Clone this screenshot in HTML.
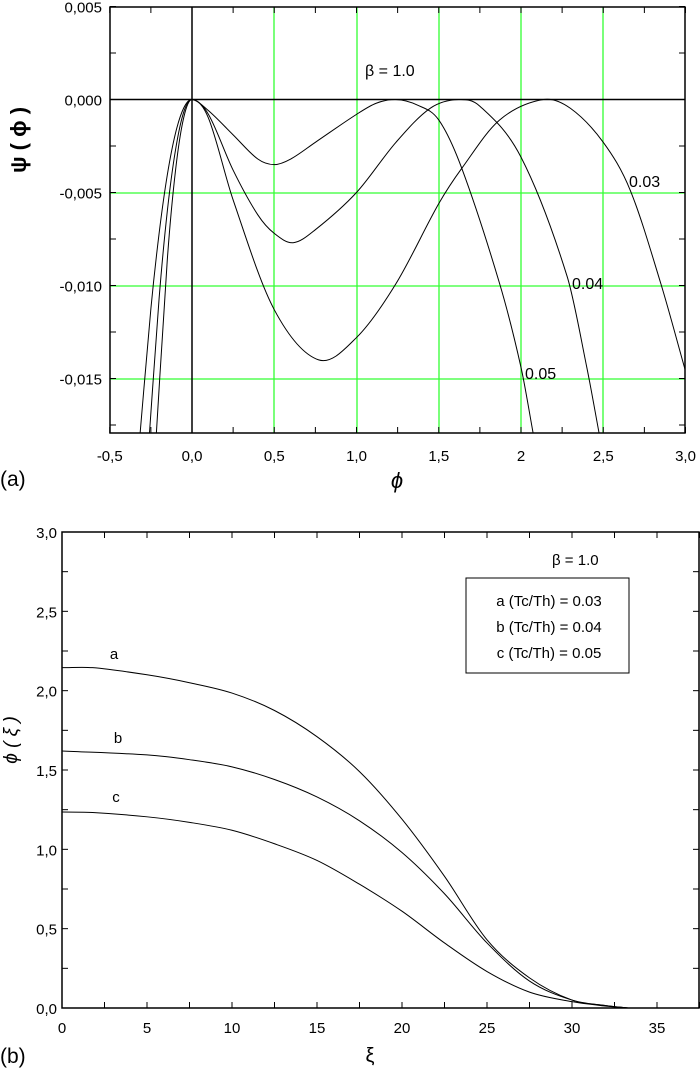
<!DOCTYPE html>
<html><head><meta charset="utf-8"><style>
html,body{margin:0;padding:0;background:#fff;}
svg{display:block;font-family:"Liberation Sans",sans-serif;}
</style></head><body>
<svg id="chart" width="700" height="1070" viewBox="0 0 700 1070"></svg>
<script>
// ---- Panel (a) data ----
const aXTicks = [-0.5,0,0.5,1,1.5,2,2.5,3];
const aXTickLabels = ["-0,5","0,0","0,5","1,0","1,5","2","2,5","3,0"];
const aYTicks = [0.005,0,-0.005,-0.010,-0.015];
const aYTickLabels = ["0,005","0,000","-0,005","-0,010","-0,015"];
const phi05 = [-0.316,-0.25,-0.2,-0.15,-0.1,-0.05,0,0.1,0.25,0.4,0.5,0.6,0.75,1.0,1.12,1.24,1.37,1.5,1.64,1.87,2.0,2.075];
const psi05 = [-0.018,-0.01125,-0.0072,-0.00405,-0.0018,-0.00045,0,-0.0006,-0.0019,-0.0032,-0.0035,-0.0032,-0.0023,-0.0008,-0.0002,0,-0.0003,-0.0011,-0.0037,-0.0099,-0.0144,-0.018];
const phi04 = [-0.259,-0.2,-0.15,-0.1,-0.05,0,0.1,0.25,0.4,0.5,0.615,0.75,1.0,1.24,1.45,1.62,1.75,2.0,2.28,2.40,2.476];
const psi04 = [-0.018,-0.0107,-0.006,-0.0027,-0.00067,0,-0.0008,-0.0038,-0.0062,-0.0072,-0.0077,-0.0070,-0.005,-0.0023,-0.00046,0,-0.00036,-0.0031,-0.0095,-0.0144,-0.018];
const phi03 = [-0.217,-0.15,-0.1,-0.05,0,0.1,0.25,0.5,0.77,1.0,1.24,1.5,1.64,1.87,2.136,2.3,2.5,2.665,2.85,3.0];
const psi03 = [-0.018,-0.0086,-0.0038,-0.00096,0,-0.001,-0.0054,-0.0113,-0.0140,-0.0128,-0.0099,-0.0056,-0.0037,-0.0011,0,-0.00047,-0.0023,-0.0049,-0.0099,-0.0146];
// ---- Panel (b) data ----
const bXTicks = [0,5,10,15,20,25,30,35];
const bYTicks = [0,0.5,1,1.5,2,2.5,3];
const bYTickLabels = ["0,0","0,5","1,0","1,5","2,0","2,5","3,0"];
const xiA = [0,1.8,5,7.5,10,12.5,15,17.5,20,22.5,25,27.5,30,32,33.3];
const phA = [2.145,2.145,2.10,2.05,1.985,1.875,1.71,1.49,1.19,0.83,0.43,0.19,0.05,0.015,0];
const xiB = [0,5,7.5,10,12.5,15,17.5,20,22.5,25,27.5,30,32,33.3];
const phB = [1.62,1.595,1.565,1.52,1.44,1.33,1.18,0.98,0.72,0.41,0.17,0.05,0.015,0];
const xiC = [0,1.8,5,7.5,10,12.5,15,17.5,20,22.5,25,27.5,30,32,33.3];
const phC = [1.235,1.232,1.205,1.17,1.12,1.035,0.93,0.78,0.61,0.41,0.23,0.10,0.04,0.012,0];

const NS="http://www.w3.org/2000/svg";
const svg=document.getElementById('chart');
function mk(tag,attrs,parent){const e=document.createElementNS(NS,tag);for(const k in attrs)e.setAttribute(k,attrs[k]);(parent||svg).appendChild(e);return e;}
function txt(s,x,y,attrs){const e=mk('text',Object.assign({x:x,y:y,'font-size':15,fill:'#000'},attrs||{}));e.textContent=s;return e;}
function spline(pts){const n=pts.length,m=[];
 for(let i=0;i<n;i++){const a=pts[Math.max(i-1,0)],b=pts[Math.min(i+1,n-1)];m.push((b[1]-a[1])/(b[0]-a[0]));}
 let d='M'+pts[0][0].toFixed(2)+','+pts[0][1].toFixed(2);
 for(let i=0;i<n-1;i++){const p1=pts[i],p2=pts[i+1],h=(p2[0]-p1[0])/3;
  d+='C'+(p1[0]+h).toFixed(2)+','+(p1[1]+m[i]*h).toFixed(2)+' '+(p2[0]-h).toFixed(2)+','+(p2[1]-m[i+1]*h).toFixed(2)+' '+p2[0].toFixed(2)+','+p2[1].toFixed(2);}
 return d;}

// ===== Panel (a) =====
const AL=110,AR=685,AT=7,AB=433;
const ax=v=>192+v*164.5;
const ay=v=>99.5+(-v)/0.005*93;
const ga=mk('g',{});
const clipA=mk('clipPath',{id:'clipA'},ga);mk('rect',{x:AL,y:AT,width:AR-AL,height:AB-AT},clipA);
[0.5,1,1.5,2,2.5].forEach(v=>{const X=Math.round(ax(v));const l=mk('line',{x1:X,x2:X,y1:AT,y2:AB,stroke:'#33ff33','stroke-width':1.3},ga);
});
[-0.005,-0.010,-0.015].forEach(v=>{const Y=Math.round(ay(v));const l=mk('line',{x1:AL,x2:AR,y1:Y,y2:Y,stroke:'#33ff33','stroke-width':1.3},ga);
});
mk('line',{x1:ax(0),x2:ax(0),y1:AT,y2:AB,stroke:'#000','stroke-width':1.5,},ga);
mk('line',{x1:AL,x2:AR,y1:ay(0),y2:ay(0),stroke:'#000','stroke-width':1.5,},ga);
for(let k=0;k<=14;k++){const v=-0.5+k*0.25;[AB,AT].forEach((yy,i)=>{const t=mk('line',{x1:ax(v),x2:ax(v),y1:yy,y2:i?yy+6:yy-6,stroke:'#000'},ga);});}
for(let k=0;k<=9;k++){const v=0.005-k*0.0025;[AL,AR].forEach((xx,i)=>{const t=mk('line',{x1:xx,x2:i?xx-6:xx+6,y1:ay(v),y2:ay(v),stroke:'#000'},ga);});}
const curvesA=[[phi05,psi05,'curve-0-05'],[phi04,psi04,'curve-0-04'],[phi03,psi03,'curve-0-03']];
curvesA.forEach(c=>{const p=mk('path',{d:spline(c[0].map((v,i)=>[ax(v),ay(c[1][i])])),fill:'none',stroke:'#000','stroke-width':1,'clip-path':'url(#clipA)'},ga);
});
mk('rect',{x:AL,y:AT,width:AR-AL,height:AB-AT,fill:'none',stroke:'#000','stroke-width':1.5,},ga);
aXTicks.forEach((v,i)=>{const t=txt(aXTickLabels[i],ax(v),461,{'text-anchor':'middle'});});
aYTicks.forEach((v,i)=>{const t=txt(aYTickLabels[i],102,ay(v)+6,{'text-anchor':'end'});});
txt('β = 1.0',365,76,{'font-size':16,});
txt('0.03',629,187,{'font-size':16,});
txt('0.04',572,289,{'font-size':16,});
txt('0.05',525,379,{'font-size':16,});
txt('ϕ',397,488,{'font-size':22,'font-style':'italic','text-anchor':'middle',});
txt('ψ ( ϕ )',0,0,{'font-size':22,'font-weight':'bold','text-anchor':'middle',transform:'translate(26,140) rotate(-90)',});
txt('(a)',0,486,{'font-size':21,});

// ===== Panel (b) =====
const BL=62,BR=699,BT=532,BB=1008;
const bx=v=>BL+v/35*595;
const by=v=>BB-v/3*(BB-BT);
const gb=mk('g',{});
for(let k=0;k<=15;k++){const v=k*2.5;[BB,BT].forEach((yy,i)=>{const t=mk('line',{x1:bx(v),x2:bx(v),y1:yy,y2:i?yy+6:yy-6,stroke:'#000'},gb);});}
for(let k=0;k<=12;k++){const v=k*0.25;[BL,BR].forEach((xx,i)=>{const t=mk('line',{x1:xx,x2:i?xx-6:xx+6,y1:by(v),y2:by(v),stroke:'#000'},gb);});}
const curvesB=[[xiA,phA,'curve-a'],[xiB,phB,'curve-b'],[xiC,phC,'curve-c']];
curvesB.forEach(c=>{const p=mk('path',{d:spline(c[0].map((v,i)=>[bx(v),by(c[1][i])])),fill:'none',stroke:'#000','stroke-width':1},gb);
});
mk('rect',{x:BL,y:BT,width:BR-BL,height:BB-BT,fill:'none',stroke:'#000','stroke-width':1.5,},gb);
bXTicks.forEach(v=>{const t=txt(String(v),bx(v),1033,{'text-anchor':'middle'});});
bYTicks.forEach((v,i)=>{const t=txt(bYTickLabels[i],57,by(v)+6,{'text-anchor':'end'});});
txt('β = 1.0',552,565,{});
mk('rect',{x:466,y:578,width:163,height:95,fill:'none',stroke:'#000','stroke-width':1,},gb);
txt('a (Tc/Th) = 0.03',549,606,{'text-anchor':'middle',});
txt('b (Tc/Th) = 0.04',549,632,{'text-anchor':'middle',});
txt('c (Tc/Th) = 0.05',549,658,{'text-anchor':'middle',});
txt('a',114,659,{'text-anchor':'middle',});
txt('b',118,743,{'text-anchor':'middle',});
txt('c',116,802,{'text-anchor':'middle',});
txt('ξ',370,1062,{'font-size':20,'text-anchor':'middle',});
txt('ϕ ( ξ )',0,0,{'font-size':19,'font-style':'italic','text-anchor':'middle',transform:'translate(17,740) rotate(-90)',});
txt('(b)',0,1063,{'font-size':21,});
</script>
</body></html>
